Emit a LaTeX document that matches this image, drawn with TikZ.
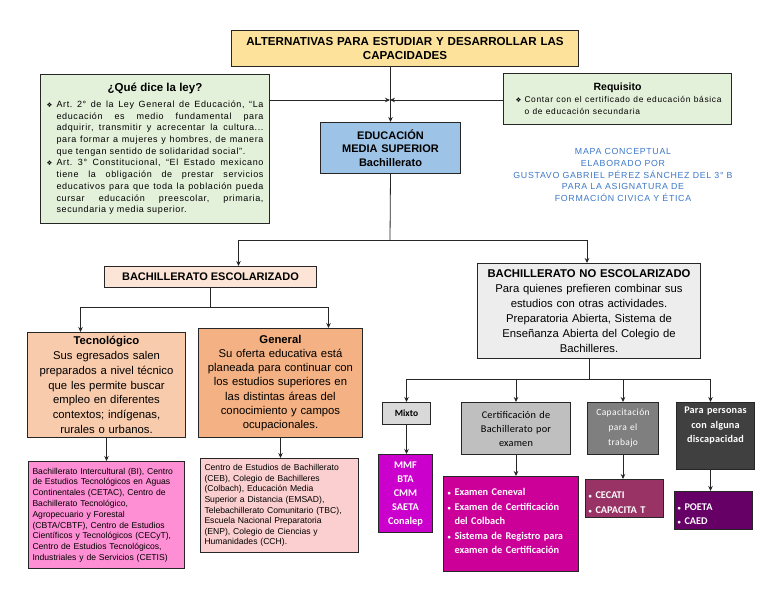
\documentclass[tikz,border=0pt]{standalone}
\usepackage{fontspec}
\setmainfont{Liberation Sans}
\newfontfamily\calfont{Carlito}
\newfontfamily\symfont{DejaVu Sans}
\usetikzlibrary{arrows.meta}
\definecolor{titlec}{HTML}{FCE29B}
\definecolor{greenc}{HTML}{E3F0DA}
\definecolor{bluec}{HTML}{9DC3E6}
\definecolor{escc}{HTML}{FCE4D6}
\definecolor{tecc}{HTML}{F8CBAD}
\definecolor{genc}{HTML}{F4B183}
\definecolor{tecsubc}{HTML}{FF8FD4}
\definecolor{gensubc}{HTML}{FBCFCF}
\definecolor{noescc}{HTML}{EDEDED}
\definecolor{mixtoc}{HTML}{D9D9D9}
\definecolor{certc}{HTML}{BFBFBF}
\definecolor{capc}{HTML}{7F7F7F}
\definecolor{parac}{HTML}{404040}
\definecolor{mmfc}{HTML}{CC00CC}
\definecolor{certsubc}{HTML}{CC0099}
\definecolor{capsubc}{HTML}{993366}
\definecolor{parasubc}{HTML}{660066}
\definecolor{mapac}{HTML}{3C78C8}
\newcommand{\litem}[1]{\par\noindent\hangindent=10pt\hangafter=1\hbox to 10pt{\symfont\fontsize{6.5}{8}\selectfont ❖\hfil}#1}
\newcommand{\ritem}[1]{\par\noindent\hangindent=9pt\hangafter=1\hbox to 9pt{\symfont\fontsize{6.5}{8}\selectfont ❖\hfil}#1}
\newcommand{\pitem}[1]{\par\noindent\hangindent=7pt\hangafter=1\hbox to 7pt{\fontsize{6.5}{6}\selectfont •\hfil}#1}
\frenchspacing
\begin{document}
\begin{tikzpicture}[x=1pt,y=-1pt,
  bx/.style={draw=black!85,line width=1pt,anchor=north west,inner sep=3pt,align=center},
  ln/.style={draw=black!85,line width=0.8pt},
  arr/.style={ln,-{Stealth[length=5pt,width=4.5pt]}}]
\useasboundingbox[fill=white] (0,0) rectangle (768,594);

\node[bx,fill=titlec,minimum width=347pt,minimum height=36pt,text width=340pt,
  font=\bfseries\fontsize{11.6}{14}\selectfont] (title) at (231,30)
  {ALTERNATIVAS PARA ESTUDIAR Y DESARROLLAR LAS\\CAPACIDADES};

\node[bx,fill=greenc,minimum width=229pt,minimum height=149pt,text width=217pt,inner xsep=6pt,align=justify] (law) at (40,74)
 {{\centering\bfseries\fontsize{11.5}{14}\selectfont ¿Qué dice la ley?\par}\vspace{4pt}%
  {\fontsize{9}{11.7}\selectfont\addfontfeature{LetterSpace=7}%
  \litem{Art. 2° de la Ley General de Educación, “La\linebreak educación es medio fundamental para\linebreak adquirir, transmitir y acrecentar la cultura...\linebreak para formar a mujeres y hombres, de manera\linebreak que tengan sentido de solidaridad social”.}
  \litem{Art. 3° Constitucional, “El Estado mexicano\linebreak tiene la obligación de prestar servicios\linebreak educativos para que toda la población pueda\linebreak cursar educación preescolar, primaria,\linebreak secundaria y media superior.}\par}};

\node[bx,fill=greenc,minimum width=228pt,minimum height=51pt,text width=204pt,inner xsep=12pt,align=left] (req) at (503,73)
 {{\centering\bfseries\fontsize{10.5}{12}\selectfont Requisito\par}%
  {\fontsize{8.4}{12}\selectfont\addfontfeature{LetterSpace=8}\ritem{Contar con el certificado de educación básica\newline o de educación secundaria}\par}};

\node[bx,fill=bluec,minimum width=140pt,minimum height=51pt,text width=134pt,
  font=\bfseries\fontsize{11}{13.5}\selectfont] (edu) at (320,122) {EDUCACIÓN\\MEDIA SUPERIOR\\Bachillerato};

\node[align=center,text=mapac,font=\fontsize{8.8}{11.7}\selectfont\addfontfeature{LetterSpace=8}] (mapa) at (623,175)
 {MAPA CONCEPTUAL\\ELABORADO POR\\GUSTAVO GABRIEL PÉREZ SÁNCHEZ DEL 3° B\\PARA LA ASIGNATURA DE\\FORMACIÓN CIVICA Y ÉTICA};

\node[bx,fill=escc,minimum width=212pt,minimum height=21pt,font=\bfseries\fontsize{11}{13}\selectfont] (esc) at (104,266) {BACHILLERATO ESCOLARIZADO};

\node[bx,fill=noescc,minimum width=223pt,minimum height=95pt,text width=215pt,font=\fontsize{11.3}{15}\selectfont] (noesc) at (477,263)
 {\textbf{BACHILLERATO NO ESCOLARIZADO}\\Para quienes prefieren combinar sus\\estudios con otras actividades.\\Preparatoria Abierta, Sistema de\\Enseñanza Abierta del Colegio de\\Bachilleres.};

\node[bx,fill=tecc,minimum width=158pt,minimum height=105pt,text width=152pt,font=\fontsize{11.3}{14.7}\selectfont] (tec) at (27,332)
 {\textbf{Tecnológico}\\Sus egresados salen\\preparados a nivel técnico\\que les permite buscar\\empleo en diferentes\\contextos; indígenas,\\rurales o urbanos.};

\node[bx,fill=genc,minimum width=164pt,minimum height=109pt,text width=158pt,font=\fontsize{11.3}{14.3}\selectfont] (gen) at (198,328)
 {\textbf{General}\\Su oferta educativa está\\planeada para continuar con\\los estudios superiores en\\las distintas áreas del\\conocimiento y campos\\ocupacionales.};

\node[bx,fill=tecsubc,minimum width=156pt,minimum height=107pt,text width=148pt,inner xsep=4pt,align=left,font=\fontsize{8.6}{10.8}\selectfont] (tecsub) at (28,461)
 {Bachillerato Intercultural (BI), Centro\\de Estudios Tecnológicos en Aguas\\Continentales (CETAC), Centro de\\Bachillerato Tecnológico,\\Agropecuario y Forestal\\(CBTA/CBTF), Centro de Estudios\\Científicos y Tecnológicos (CECyT),\\Centro de Estudios Tecnológicos,\\Industriales y de Servicios (CETIS)};

\node[bx,fill=gensubc,minimum width=158pt,minimum height=94pt,text width=150pt,inner xsep=4pt,align=left,font=\fontsize{8.6}{10.6}\selectfont] (gensub) at (200,458)
 {Centro de Estudios de Bachillerato\\(CEB), Colegio de Bachilleres\\(Colbach), Educación Media\\Superior a Distancia (EMSAD),\\Telebachillerato Comunitario (TBC),\\Escuela Nacional Preparatoria\\(ENP), Colegio de Ciencias y\\Humanidades (CCH).};

\node[bx,fill=mixtoc,minimum width=48pt,minimum height=22pt,font=\calfont\bfseries\fontsize{9.5}{10}\selectfont] (mixto) at (382,402) {Mixto};
\node[bx,fill=certc,minimum width=109pt,minimum height=52pt,text width=103pt,font=\calfont\fontsize{10.3}{14}\selectfont\addfontfeature{LetterSpace=2}] (cert) at (461,402)
 {Certificación de\\Bachillerato por\\examen};
\node[bx,fill=capc,minimum width=71pt,minimum height=52pt,text width=65pt,text=white,font=\calfont\fontsize{9.5}{15}\selectfont\addfontfeature{LetterSpace=4}] (cap) at (587,402)
 {Capacitación\\para el\\trabajo};
\node[bx,fill=parac,minimum width=78pt,minimum height=67pt,text width=74pt,inner xsep=2pt,text=white,font=\calfont\bfseries\fontsize{10.2}{14.5}\selectfont\addfontfeature{LetterSpace=2}] (para) at (676,402)
 {Para personas\\con alguna\\discapacidad\\[8pt]\mbox{}};

\node[bx,fill=mmfc,minimum width=54pt,minimum height=78pt,text width=48pt,text=white,font=\calfont\bfseries\fontsize{10.3}{14}\selectfont] (mmf) at (378,454)
 {MMF\\BTA\\CMM\\SAETA\\Conalep};
\node[bx,fill=certsubc,minimum width=135pt,minimum height=88pt,text width=127pt,inner xsep=4pt,align=left,text=white,font=\calfont\bfseries\fontsize{10.3}{13.2}\selectfont] (certsub) at (443,476)
 {\setlength{\parskip}{2.5pt}\pitem{Examen Ceneval}\pitem{Examen de Certificación\newline del Colbach}\pitem{Sistema de Registro para\newline examen de Certificación}\par\rule{0pt}{13pt}};
\node[bx,fill=capsubc,minimum width=78pt,minimum height=38pt,text width=72pt,inner xsep=3pt,align=left,text=white,font=\calfont\bfseries\fontsize{10.3}{15}\selectfont] (capsub) at (585,479)
 {\pitem{CECATI}\pitem{CAPACITA T}};
\node[bx,fill=parasubc,minimum width=78pt,minimum height=38pt,text width=72pt,inner xsep=3pt,align=left,text=white,font=\calfont\bfseries\fontsize{10.3}{14}\selectfont] (parasub) at (674,491)
 {\pitem{POETA}\pitem{CAED}};

% connectors
\coordinate (j1) at (390,100);
\draw[arr] (title.south -| edu.north) -- (edu.north);
\draw[arr] (law.east |- j1) -- (j1);
\draw[arr] (req.west |- j1) -- (j1);
\coordinate (s1) at (390,240);
\draw[ln] (edu.south) -- (s1);
\draw[arr] (s1) -| ([xshift=28pt]esc.north);
\draw[arr] (s1) -| ([xshift=-2pt]noesc.north);
\draw[ln] (esc.south) -- ++(0,19) coordinate (s2);
\draw[arr] (s2) -| ([xshift=-26pt]tec.north);
\draw[arr] (s2) -| ([xshift=48pt]gen.north);
\draw[arr] (tec.south) -- (tec.south |- tecsub.north);
\draw[arr] (gen.south) -- (gen.south |- gensub.north);
\draw[ln] (noesc.south) -- ++(0,20) coordinate (s3);
\draw[arr] (s3) -| (mixto.north);
\draw[arr] (s3) -| (cert.north);
\draw[arr] (s3) -| (cap.north);
\draw[arr] (s3) -| ([xshift=-5pt]para.north);
\draw[arr] (mixto.south) -- (mixto.south |- mmf.north);
\draw[arr] (cert.south) -- (cert.south |- certsub.north);
\draw[arr] (cap.south) -- (cap.south |- capsub.north);
\draw[arr] ([xshift=-5pt]para.south) -- ([xshift=-5pt]para.south |- parasub.north);
\end{tikzpicture}
\end{document}
